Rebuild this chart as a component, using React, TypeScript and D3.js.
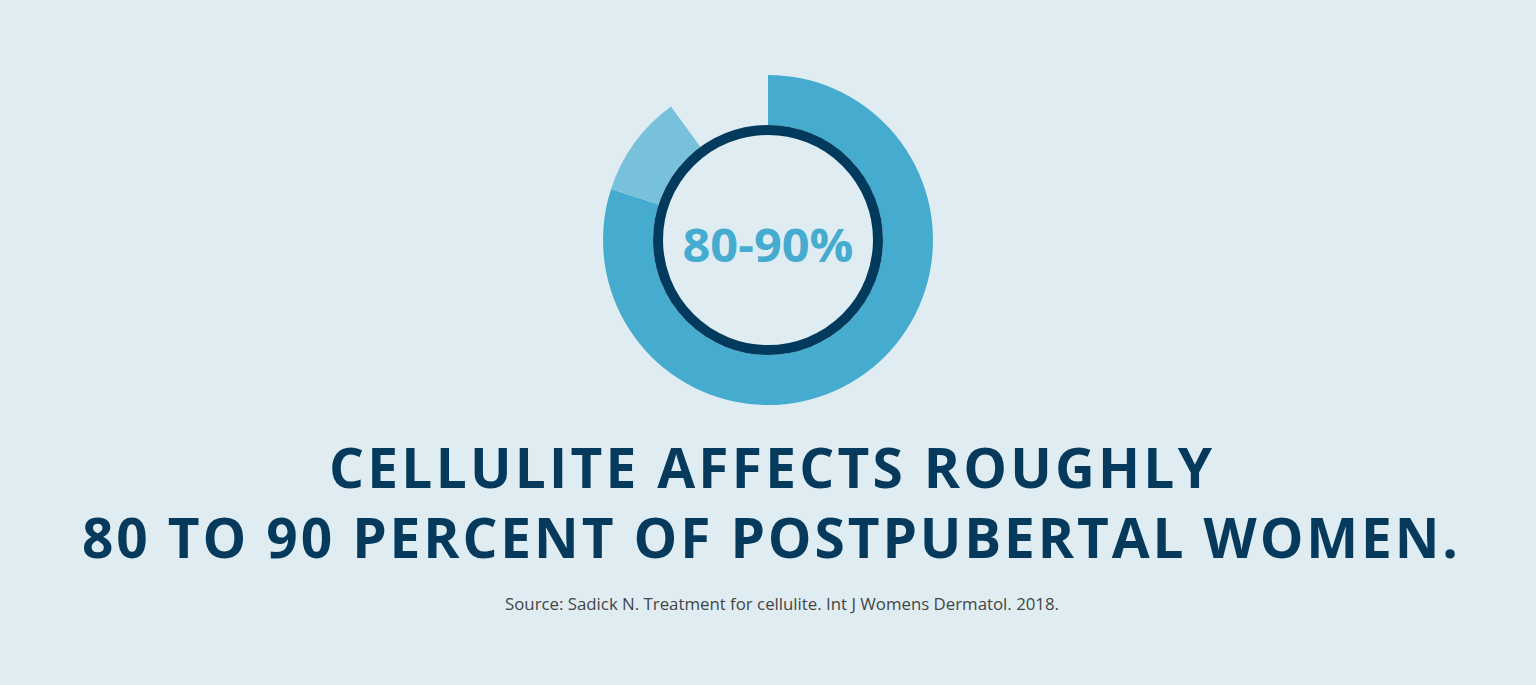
import React from "react";
import * as d3 from "d3";

const categories = ["Affected (lower bound)", "Affected (upper range)", "Not affected"];
const values = [80, 10, 10];
const colors = ["#45ACCF", "#78C1DA", "none"];
const centerLabel = "80-90%";
const headingLines = ["CELLULITE AFFECTS ROUGHLY", "80 TO 90 PERCENT OF POSTPUBERTAL WOMEN."];
const sourceText = "Source: Sadick N. Treatment for cellulite. Int J Womens Dermatol. 2018.";

const W = 1536;
const H = 685;

export default function App() {
  const cx = 768;
  const cy = 240;
  const pie = d3
    .pie<number>()
    .sort(null)
    .value((d) => d)
    .startAngle(0)
    .endAngle(2 * Math.PI);
  const arcs = pie(values);
  const arc = d3.arc<d3.PieArcDatum<number>>().innerRadius(115).outerRadius(165);

  return (
    <svg
      width={W}
      height={H}
      viewBox={`0 0 ${W} ${H}`}
      style={{ position: "fixed", left: 0, top: 0, display: "block" }}
    >
      <rect x={0} y={0} width={W} height={H} fill="#DFEDF3" />
      <g transform={`translate(${cx},${cy})`}>
        {arcs.map((a, i) =>
          colors[i] === "none" ? null : (
            <path key={categories[i]} d={arc(a) || ""} fill={colors[i]} />
          )
        )}
        <circle r={110} fill="none" stroke="#013A5C" strokeWidth={10} />
        <text
          x={0}
          y={22}
          textAnchor="middle"
          fontFamily="'Open Sans', sans-serif"
          fontWeight={700}
          fontSize={47}
          fill="#45ACCF"
          textLength={171}
          lengthAdjust="spacingAndGlyphs"
        >
          {centerLabel}
        </text>
      </g>
      <text
        x={329}
        y={488}
        fontFamily="'Open Sans', sans-serif"
        fontWeight={700}
        fontSize={55}
        fill="#063A5C"
        textLength={883}
        lengthAdjust="spacing"
      >
        {headingLines[0]}
      </text>
      <text
        x={82}
        y={558}
        fontFamily="'Open Sans', sans-serif"
        fontWeight={700}
        fontSize={55}
        fill="#063A5C"
        textLength={1376}
        lengthAdjust="spacing"
      >
        {headingLines[1]}
      </text>
      <text
        x={505}
        y={610}
        fontFamily="'Open Sans', sans-serif"
        fontSize={16}
        fill="#444444"
        textLength={554}
        lengthAdjust="spacingAndGlyphs"
      >
        {sourceText}
      </text>
    </svg>
  );
}
